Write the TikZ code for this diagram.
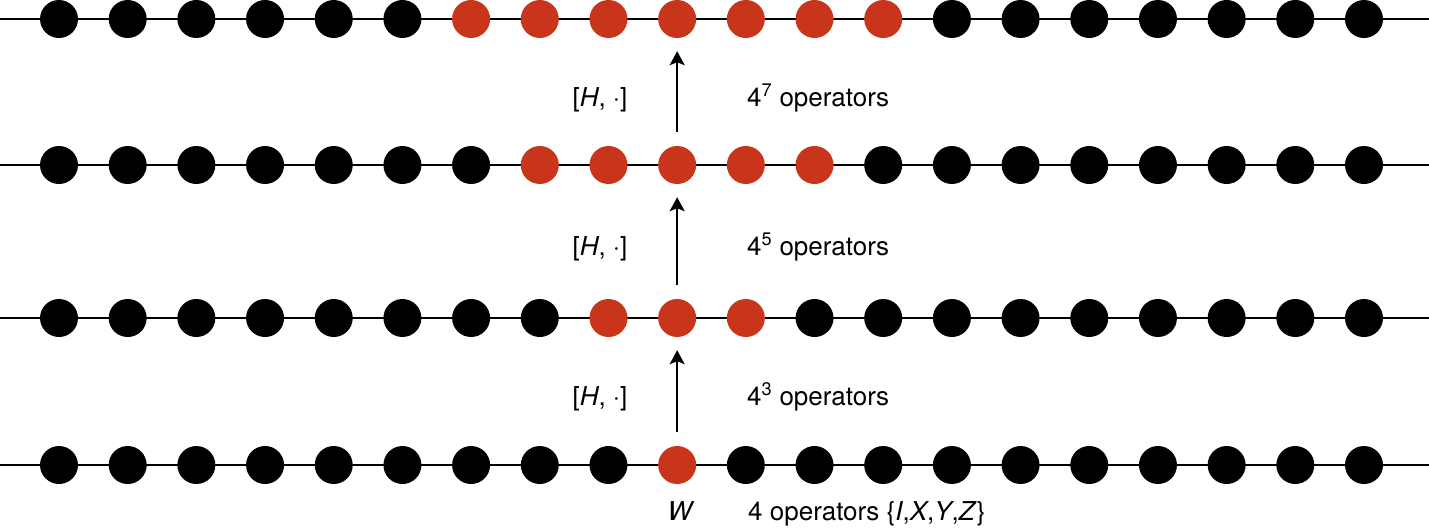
\documentclass[tikz,border=0pt]{standalone}
\usepackage{fontspec}
\setmainfont{TeX Gyre Heros}
\usetikzlibrary{arrows.meta}
\definecolor{qred}{RGB}{200,53,26}
\tikzset{
  rowline/.style={line width=1.8pt,black},
  dot/.style={circle,minimum size=38pt,inner sep=0pt,draw=none},
  arr/.style={line width=2pt,-{Stealth[length=14pt,width=15pt,inset=3pt]}},
  lbl/.style={inner sep=0pt,font=\fontsize{26}{30}\selectfont}
}
\begin{document}
\begin{tikzpicture}[x=1pt,y=-1pt]
\useasboundingbox (0,0) rectangle (1429,531);
\foreach \r/\y/\lo/\hi in {1/19/6/12,2/165/7/11,3/318/8/10,4/465/9/9}{
  \coordinate (L\r) at (0,\y);
  \coordinate (R\r) at (1429,\y);
  \draw[rowline] (L\r) -- (R\r);
  \foreach \i in {0,...,19}{
    \ifnum\i<\lo \def\col{black}\else\ifnum\i>\hi \def\col{black}\else\def\col{qred}\fi\fi
    \node[dot,fill=\col] (r\r c\i) at ({59+\i*68.684},\y) {};
  }
}
\draw[arr] ([yshift=14pt]r2c9.north) -- ([yshift=-13pt]r1c9.south);
\draw[arr] ([yshift=14pt]r3c9.north) -- ([yshift=-13pt]r2c9.south);
\draw[arr] ([yshift=14pt]r4c9.north) -- ([yshift=-13pt]r3c9.south);
\node[lbl,anchor=base] (h1) at (600,106) {[\textit{H}, ·]};
\node[lbl,anchor=base] (h2) at (600,255) {[\textit{H}, ·]};
\node[lbl,anchor=base] (h3) at (600,405) {[\textit{H}, ·]};
\node[lbl,anchor=base west] (o1) at (747,106) {4\textsuperscript{7} operators};
\node[lbl,anchor=base west] (o2) at (747,255) {4\textsuperscript{5} operators};
\node[lbl,anchor=base west] (o3) at (747,405) {4\textsuperscript{3} operators};
\node[lbl,anchor=base] (w) at (681,520) {\textit{W}};
\node[lbl,anchor=base west] (o4) at (748,520) {4 operators \{\textit{I},\textit{X},\textit{Y},\textit{Z}\}};
\end{tikzpicture}
\end{document}
